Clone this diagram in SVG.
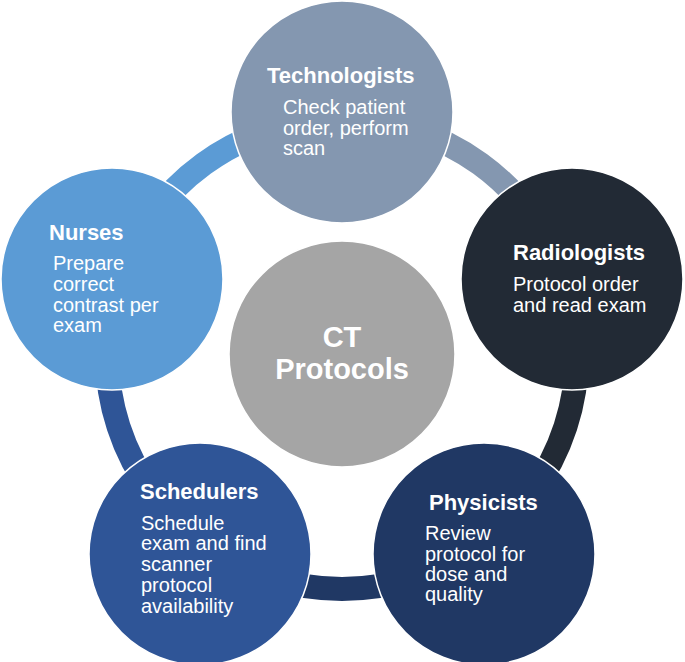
<svg xmlns="http://www.w3.org/2000/svg" width="685" height="662" viewBox="0 0 685 662">
<style>
.ring{fill:none;stroke-width:24}
.node{stroke:#ffffff;stroke-width:1.5}
.t{font-family:"Liberation Sans",Arial,sans-serif;font-weight:bold;font-size:22px;fill:#ffffff}
.b{font-family:"Liberation Sans",Arial,sans-serif;font-size:20px;fill:#ffffff}
.c{font-family:"Liberation Sans",Arial,sans-serif;font-weight:bold;font-size:29px;fill:#ffffff;text-anchor:middle}
</style>
<rect width="685" height="662" fill="#ffffff"/>
<g id="connectors">
<path class="ring" stroke="#8497B0" d="M342,119 A235,235 0 0 1 565.5,281.4"/>
<path class="ring" stroke="#222A35" d="M565.5,281.4 A235,235 0 0 1 480.1,544.1"/>
<path class="ring" stroke="#203864" d="M480.1,544.1 A235,235 0 0 1 203.9,544.1"/>
<path class="ring" stroke="#2F5597" d="M203.9,544.1 A235,235 0 0 1 118.5,281.4"/>
<path class="ring" stroke="#5B9BD5" d="M118.5,281.4 A235,235 0 0 1 342,119"/>
</g>
<g id="center">
<circle class="node" cx="342" cy="354" r="113" fill="#A5A5A5"/>
<text class="c" x="342" y="347">CT</text>
<text class="c" x="342" y="379">Protocols</text>
</g>
<g id="technologists">
<circle class="node" cx="342" cy="112" r="111" fill="#8497B0"/>
<text class="t" x="267" y="83">Technologists</text>
<text class="b" x="283" y="114">Check patient</text>
<text class="b" x="283" y="135">order, perform</text>
<text class="b" x="283" y="155">scan</text>
</g>
<g id="radiologists">
<circle class="node" cx="572" cy="279" r="111" fill="#222A35"/>
<text class="t" x="513" y="260">Radiologists</text>
<text class="b" x="513" y="291">Protocol order</text>
<text class="b" x="513" y="312">and read exam</text>
</g>
<g id="physicists">
<circle class="node" cx="484" cy="554" r="111" fill="#203864"/>
<text class="t" x="429" y="510">Physicists</text>
<text class="b" x="425" y="540">Review</text>
<text class="b" x="425" y="561">protocol for</text>
<text class="b" x="425" y="581">dose and</text>
<text class="b" x="425" y="601">quality</text>
</g>
<g id="schedulers">
<circle class="node" cx="200" cy="554" r="111" fill="#2F5597"/>
<text class="t" x="140" y="499">Schedulers</text>
<text class="b" x="141" y="530">Schedule</text>
<text class="b" x="141" y="550">exam and find</text>
<text class="b" x="141" y="571">scanner</text>
<text class="b" x="141" y="592">protocol</text>
<text class="b" x="141" y="613">availability</text>
</g>
<g id="nurses">
<circle class="node" cx="112" cy="279" r="111" fill="#5B9BD5"/>
<text class="t" x="49" y="240">Nurses</text>
<text class="b" x="53" y="270">Prepare</text>
<text class="b" x="53" y="291">correct</text>
<text class="b" x="53" y="312">contrast per</text>
<text class="b" x="53" y="332">exam</text>
</g>
</svg>
